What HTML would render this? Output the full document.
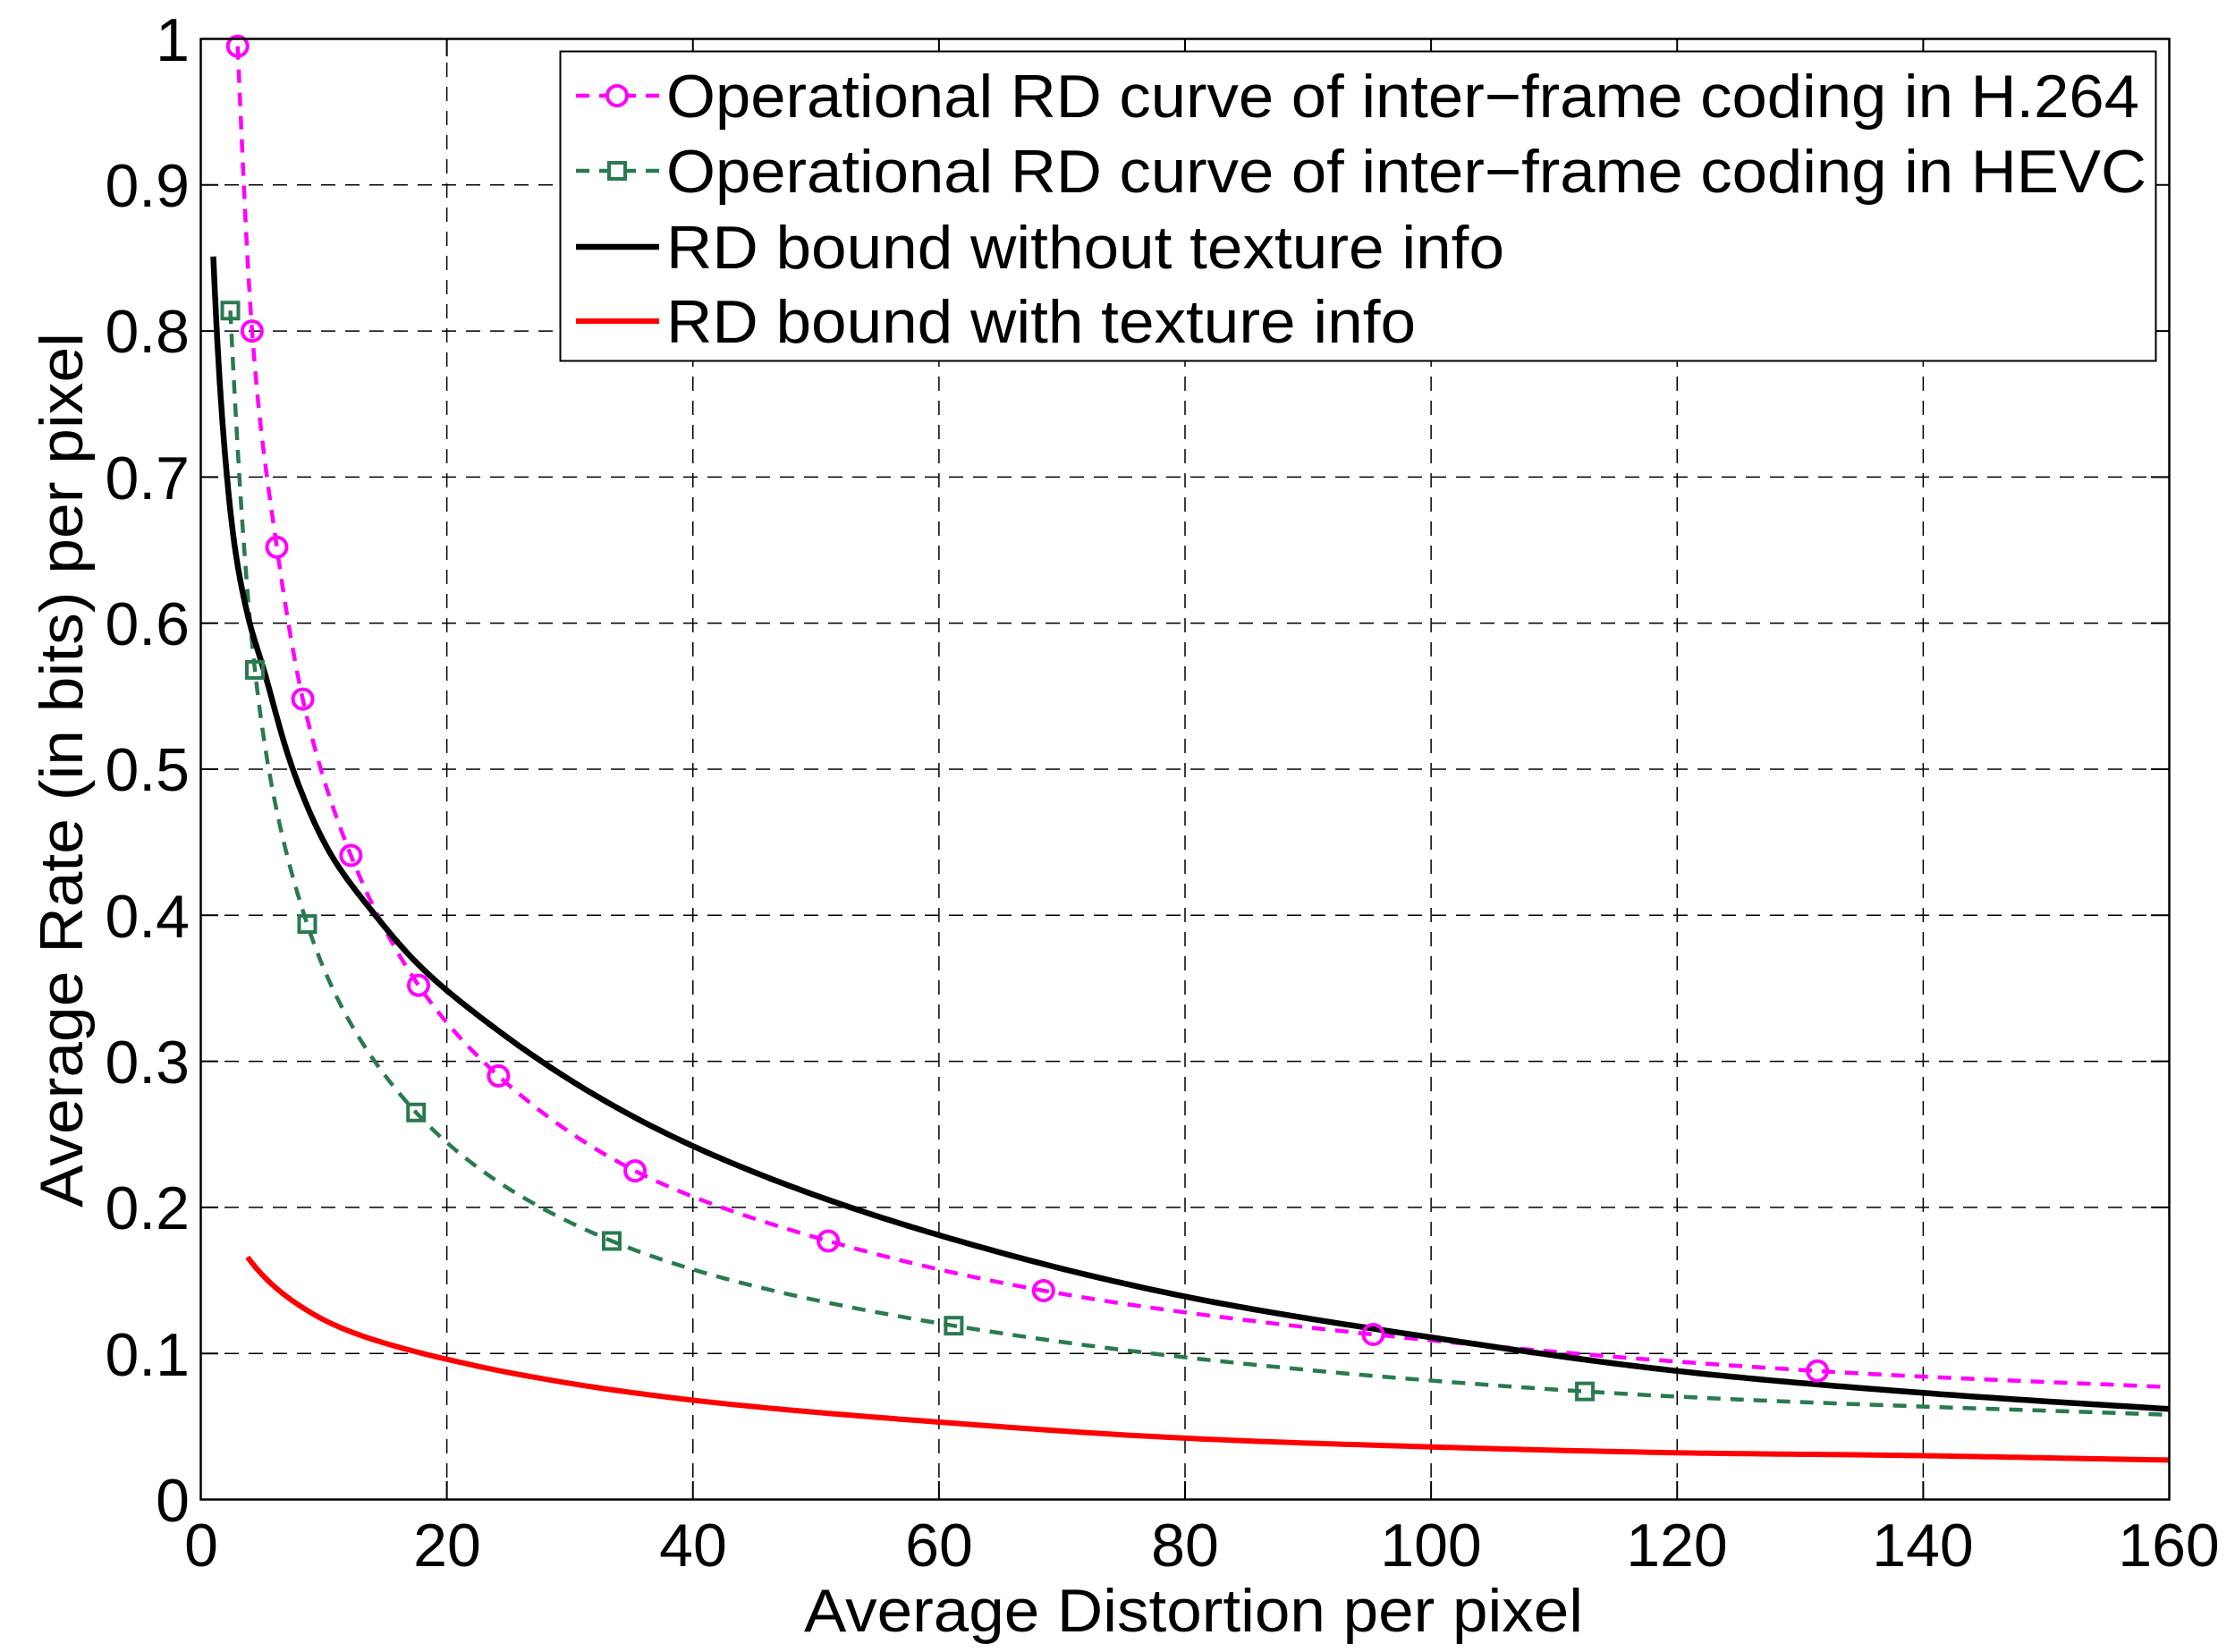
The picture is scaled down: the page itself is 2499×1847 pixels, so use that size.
<!DOCTYPE html>
<html><head><meta charset="utf-8"><style>
html,body{margin:0;padding:0;background:#fff;}
svg{display:block;}
text{font-family:"Liberation Sans",sans-serif;fill:#000;}
</style></head><body>
<svg id="s" width="2499" height="1847" viewBox="0 0 2499 1847" xmlns="http://www.w3.org/2000/svg">
<rect x="0" y="0" width="2499" height="1847" fill="#fff"/>
<g id="grid"></g>
<g id="series"></g>
<rect x="224.5" y="43.5" width="2201" height="1633" fill="none" stroke="#000" stroke-width="2.5"/>
<g font-size="68" text-anchor="end">
<text x="212" y="1701">0</text><text x="212" y="1538">0.1</text><text x="212" y="1374">0.2</text><text x="212" y="1211">0.3</text><text x="212" y="1048">0.4</text><text x="212" y="884">0.5</text><text x="212" y="721">0.6</text><text x="212" y="558">0.7</text><text x="212" y="394">0.8</text><text x="212" y="231">0.9</text><text x="212" y="68">1</text>
</g>
<g font-size="68" text-anchor="middle">
<text x="225" y="1751">0</text><text x="500" y="1751">20</text><text x="775" y="1751">40</text><text x="1050" y="1751">60</text><text x="1325" y="1751">80</text><text x="1600" y="1751">100</text><text x="1875" y="1751">120</text><text x="2150" y="1751">140</text><text x="2425" y="1751">160</text>
</g>
<g font-size="68">
<text x="899" y="1824" textLength="871" lengthAdjust="spacingAndGlyphs">Average Distortion per pixel</text>
<text x="0" y="0" transform="translate(92,1350) rotate(-90)" textLength="978" lengthAdjust="spacingAndGlyphs">Average Rate (in bits) per pixel</text>
</g>
<rect x="626.5" y="57.5" width="1784" height="346" fill="#fff" stroke="#000" stroke-width="2"/>
<g id="leg"></g>
<g font-size="68">
<text x="745" y="131" textLength="1647" lengthAdjust="spacingAndGlyphs">Operational RD curve of inter−frame coding in H.264</text>
<text x="745" y="215" textLength="1655" lengthAdjust="spacingAndGlyphs">Operational RD curve of inter−frame coding in HEVC</text>
<text x="745" y="300" textLength="937" lengthAdjust="spacingAndGlyphs">RD bound without texture info</text>
<text x="745" y="383" textLength="838" lengthAdjust="spacingAndGlyphs">RD bound with texture info</text>
</g>
</svg>
<script>
const X0=224.5,XS=(2425.5-224.5)/160,Y0=1676.5,YS=1633;
const px=x=>X0+x*XS, py=y=>Y0-y*YS;
const NS="http://www.w3.org/2000/svg";
function el(p,t,a){const e=document.createElementNS(NS,t);for(const k in a)e.setAttribute(k,a[k]);document.getElementById(p).appendChild(e);return e;}
for(let i=1;i<8;i++){const x=px(i*20);el('grid','line',{x1:x,y1:43,x2:x,y2:1676,stroke:'#000','stroke-width':1.5,'stroke-dasharray':'16 11'});}
for(let i=1;i<10;i++){const y=py(i/10);el('grid','line',{x1:224,y1:y,x2:2425,y2:y,stroke:'#000','stroke-width':1.5,'stroke-dasharray':'16 11'});}
for(let i=1;i<8;i++){const x=px(i*20);el('grid','line',{x1:x,y1:1676,x2:x,y2:1656,stroke:'#000','stroke-width':2});el('grid','line',{x1:x,y1:43,x2:x,y2:63,stroke:'#000','stroke-width':2});}
for(let i=1;i<10;i++){const y=py(i/10);el('grid','line',{x1:224,y1:y,x2:244,y2:y,stroke:'#000','stroke-width':2});el('grid','line',{x1:2405,y1:y,x2:2425,y2:y,stroke:'#000','stroke-width':2});}
function mono(pts){const n=pts.length,xs=pts.map(p=>Math.log(p[0])),ys=pts.map(p=>p[1]);
const d=[],m=[];for(let i=0;i<n-1;i++)d.push((ys[i+1]-ys[i])/(xs[i+1]-xs[i]));
m[0]=d[0];m[n-1]=d[n-2];for(let i=1;i<n-1;i++){m[i]=(d[i-1]*d[i]<=0)?0:(d[i-1]+d[i])/2;}
for(let i=0;i<n-1;i++){if(d[i]===0){m[i]=m[i+1]=0;continue;}const a=m[i]/d[i],b=m[i+1]/d[i],s=a*a+b*b;if(s>9){const t=3/Math.sqrt(s);m[i]=t*a*d[i];m[i+1]=t*b*d[i];}}
let out=[];for(let i=0;i<n-1;i++){const h=xs[i+1]-xs[i];const N=30;for(let k=0;k<N;k++){const t=k/N,t2=t*t,t3=t2*t;
const y=(2*t3-3*t2+1)*ys[i]+(t3-2*t2+t)*h*m[i]+(-2*t3+3*t2)*ys[i+1]+(t3-t2)*h*m[i+1];
out.push([Math.exp(xs[i]+t*h),y]);}}out.push(pts[n-1]);
return 'M'+out.map(p=>px(p[0]).toFixed(1)+' '+py(p[1]).toFixed(1)).join(' L');}
const mag=[[3.0,.995],[4.17,.80],[6.18,.652],[8.29,.548],[12.2,.441],[17.7,.352],[24.2,.290],[35.3,.225],[51,.177],[68.5,.143],[95.3,.113],[131.4,.088],[160,.077]];
const grn=[[2.4,.814],[4.4,.568],[8.65,.394],[17.5,.265],[33.4,.177],[61.2,.119],[112.5,.074],[160,.058]];
const blk=[[1.02,.851],[1.87,.726],[2.72,.655],[3.8,.606],[5.26,.564],[7.44,.501],[10.35,.445],[14,.402],[17.6,.367],[23.7,.324],[40,.242],[60,.181],[80,.139],[100,.111],[120,.088],[140,.073],[160,.062]];
const red=[[3.8,.166],[7.3,.137],[11,.119],[20,.096],[40,.068],[60,.053],[80,.042],[100,.036],[120,.032],[140,.030],[160,.027]];
el('series','path',{d:mono(red),fill:'none',stroke:'#ff0000','stroke-width':6});
el('series','path',{d:mono(grn),fill:'none',stroke:'#2a7a50','stroke-width':4.5,'stroke-dasharray':'15 11'});
el('series','path',{d:mono(mag),fill:'none',stroke:'#ff00ff','stroke-width':4.5,'stroke-dasharray':'15 11'});
el('series','path',{d:mono(blk),fill:'none',stroke:'#000','stroke-width':6.5});
mag.slice(0,12).forEach(p=>el('series','circle',{cx:px(p[0]),cy:py(p[1]),r:11,fill:'none',stroke:'#ff00ff','stroke-width':4}));
grn.slice(0,7).forEach(p=>el('series','rect',{x:px(p[0])-9,y:py(p[1])-9,width:18,height:18,fill:'none',stroke:'#2a7a50','stroke-width':4}));
el('leg','line',{x1:644,y1:107,x2:737,y2:107,stroke:'#ff00ff','stroke-width':4.5,'stroke-dasharray':'15 11'});
el('leg','circle',{cx:690,cy:107,r:11,fill:'#fff',stroke:'#ff00ff','stroke-width':4});
el('leg','line',{x1:644,y1:191,x2:737,y2:191,stroke:'#2a7a50','stroke-width':4.5,'stroke-dasharray':'15 11'});
el('leg','rect',{x:681,y:182,width:18,height:18,fill:'#fff',stroke:'#2a7a50','stroke-width':4});
el('leg','line',{x1:644,y1:276,x2:737,y2:276,stroke:'#000','stroke-width':6.5});
el('leg','line',{x1:644,y1:359,x2:737,y2:359,stroke:'#ff0000','stroke-width':6});
</script>
</body></html>
